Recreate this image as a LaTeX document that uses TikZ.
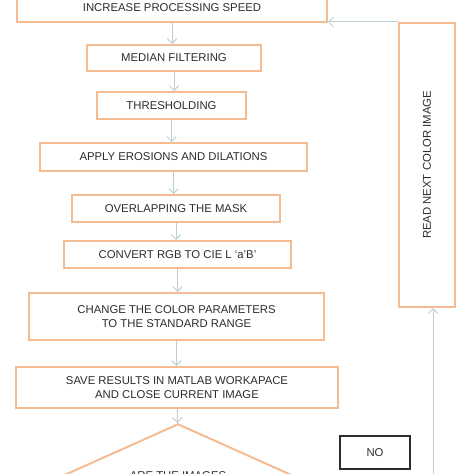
\documentclass[tikz,border=0pt]{standalone}
\usepackage{fontspec}
\setmainfont{Liberation Sans}
\usepackage{tikz}
\usetikzlibrary{shapes.geometric,arrows.meta}
\definecolor{boxorange}{RGB}{245,188,145}
\definecolor{flowgray}{RGB}{188,207,215}
\definecolor{txtgray}{RGB}{45,45,45}

\begin{document}
\begin{tikzpicture}[x=0.75pt,y=0.75pt,yscale=-1,xscale=1,
    stage/.style={draw=boxorange,line width=1.5pt,fill=white,inner sep=0.75pt,align=center,
        text=txtgray,font=\fontsize{8.5}{10.2}\selectfont},
    answer/.style={draw=txtgray,line width=1.1pt,fill=white,inner sep=0.75pt,
        text=txtgray,font=\fontsize{8.5}{10.2}\selectfont},
    flow/.style={draw=flowgray,line width=0.75pt,-{Straight Barb[length=3.5pt,width=7pt]}}]
        %set diagram frame: 474 x 474
        \useasboundingbox (0,0) rectangle (474,474);
        \clip (0,0) rectangle (474,474);
        %Shape: Rectangle [speed]
        \node[stage,minimum width=232.5pt,minimum height=21pt] (speed) at (172,8) {INCREASE PROCESSING SPEED};
        %Shape: Rectangle [median]
        \node[stage,minimum width=130.5pt,minimum height=19.5pt] (median) at (174,58) {MEDIAN FILTERING};
        %Shape: Rectangle [thresh]
        \node[stage,minimum width=111.75pt,minimum height=20.25pt] (thresh) at (171.5,105.5) {THRESHOLDING};
        %Shape: Rectangle [erode]
        \node[stage,minimum width=200.25pt,minimum height=21pt] (erode) at (173.5,157) {APPLY EROSIONS AND DILATIONS};
        %Shape: Rectangle [mask]
        \node[stage,minimum width=156pt,minimum height=20.25pt] (mask) at (176,208.5) {OVERLAPPING THE MASK};
        %Shape: Rectangle [cie]
        \node[stage,minimum width=170.25pt,minimum height=20.25pt] (cie) at (177.5,254.5) {CONVERT RGB TO CIE L ‘a’B’};
        %Shape: Rectangle [range]
        \node[stage,minimum width=221.25pt,minimum height=35.25pt] (range) at (176.5,316.5) {CHANGE THE COLOR PARAMETERS\\TO THE STANDARD RANGE};
        %Shape: Rectangle [save]
        \node[stage,minimum width=241.5pt,minimum height=30.75pt] (save) at (177,387.5) {SAVE RESULTS IN MATLAB WORKAPACE\\AND CLOSE CURRENT IMAGE};
        %Shape: Diamond [check]
        \node[stage,shape=diamond,inner sep=0pt,minimum width=174pt,minimum height=58.5pt] (check) at (178,476) {ARE THE IMAGES};
        %Shape: Rectangle [read]
        \node[stage,rotate=90,minimum width=213pt,minimum height=42pt] (read) at (427,165) {READ NEXT COLOR IMAGE};
        %Shape: Rectangle [no]
        \node[answer,minimum width=52.5pt,minimum height=24.75pt] (no) at (375,452.5) {NO};
        %loop start below the frame
        \coordinate (loop) at (433,480);

        %Straight Lines
        \draw[flow] (speed) -- (speed |- median.north);
        \draw[flow] (median) -- (median |- thresh.north);
        \draw[flow] (thresh) -- (thresh |- erode.north);
        \draw[flow] (erode) -- (erode |- mask.north);
        \draw[flow] (mask) -- (mask |- cie.north);
        \draw[flow] (cie) -- (cie |- range.north);
        \draw[flow] (range) -- (range |- save.north);
        \draw[flow] (save) -- (check);
        %Straight Lines: back loop
        \draw[flow] (loop) -- (loop |- read.west);
        \draw[flow] (read.north east) -- (read.north east -| speed.south east);
\end{tikzpicture}
\end{document}
